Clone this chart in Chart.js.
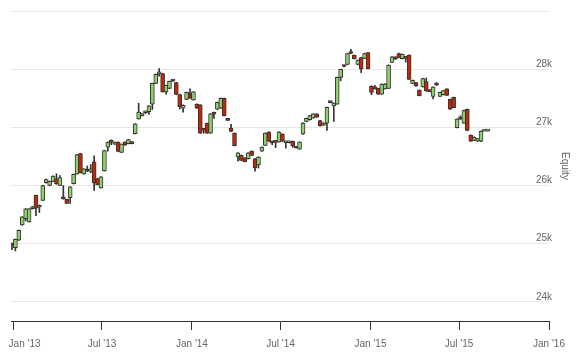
<!DOCTYPE html>
<html>
<head>
<meta charset="utf-8">
<script src="https://cdn.jsdelivr.net/npm/chart.js@4.4.1/dist/chart.umd.min.js"></script>
<style>
html, body { margin: 0; padding: 0; background: #fff; }
</style>
</head>
<body>
<canvas id="equityChart" width="580" height="360"></canvas>
<script>
// Weekly candles, first one starts a few days before Jan 1 2013 (day 0)
const firstWeekDay = -3;

const openVals = [
    25000, 24930, 25060, 25320, 25430, 25375, 25600, 25830, 25625, 25745,
    26050, 26000, 26070, 26115, 26000, 25790, 25760, 25790, 26030, 26200,
    26550, 26200, 26270, 26240, 26405, 26120, 25960, 26250, 26660, 26780,
    26710, 26745, 26570, 26745, 26720, 26750, 26890, 27145, 27200, 27250,
    27270, 27400, 27755, 27920, 27925, 27610, 27670, 27805, 27770, 27565,
    27330, 27480, 27580, 27470, 27400, 27385, 26960, 27070, 26900, 27255,
    27310, 27330, 27500, 27140, 26985, 26900, 26490, 26520, 26475, 26460,
    26590, 26460, 26355, 26590, 26690, 26920, 26760, 26750, 26750, 26885,
    26735, 26735, 26760, 26670, 26625, 26885, 27100, 27130, 27160, 27230,
    27115, 27035, 27070, 27440, 27370, 27400, 27860, 28065, 28080, 28285,
    28240, 28080, 28200, 28185, 28285, 27710, 27670, 27670, 27570, 27660,
    27670, 28115, 28210, 28270, 28180, 28195, 28240, 27755, 27770, 27640,
    27695, 27785, 27640, 27530, 27745, 27530, 27560, 27660, 27480, 27515,
    26995, 27150, 27070, 27310, 26865, 26775, 26760, 26760, 26935, 26935
];
const highVals = [
    25005, 25080, 25235, 25465, 25605, 25605, 25645, 25835, 25665, 26005,
    26110, 26075, 26165, 26200, 26170, 26000, 25765, 25980, 26195, 26535,
    26555, 26290, 26335, 26360, 26510, 26125, 26155, 26605, 26750, 26785,
    26750, 26750, 26715, 26750, 26795, 26755, 27065, 27415, 27235, 27280,
    27375, 27760, 27915, 28010, 27930, 27725, 27795, 27810, 27775, 27570,
    27385, 27605, 27660, 27615, 27405, 27390, 26980, 27075, 27235, 27260,
    27435, 27505, 27505, 27145, 27050, 26905, 26565, 26525, 26480, 26565,
    26595, 26465, 26495, 26665, 26905, 26925, 26765, 26755, 26925, 26890,
    26765, 26765, 26765, 26675, 26750, 27080, 27160, 27205, 27235, 27235,
    27120, 27080, 27350, 27445, 27420, 27865, 28000, 28070, 28275, 28340,
    28245, 28160, 28205, 28275, 28290, 27715, 27720, 27675, 27750, 27750,
    28075, 28215, 28215, 28275, 28260, 28200, 28245, 27815, 27775, 27645,
    27845, 27850, 27645, 27695, 27770, 27605, 27635, 27665, 27485, 27520,
    27145, 27200, 27295, 27315, 26870, 26835, 26810, 26940, 26935, 26935
];
const lowVals = [
    24895, 24875, 25055, 25315, 25390, 25370, 25595, 25480, 25535, 25740,
    26040, 25995, 26065, 26020, 25995, 25765, 25685, 25690, 26025, 26195,
    26215, 26195, 26240, 26220, 25915, 26010, 25955, 26245, 26590, 26700,
    26705, 26580, 26565, 26690, 26715, 26715, 26885, 27140, 27195, 27235,
    27220, 27305, 27750, 27880, 27605, 27570, 27665, 27790, 27560, 27315,
    27260, 27475, 27495, 27465, 27325, 26895, 26900, 26895, 26895, 27155,
    27305, 27325, 27195, 27115, 26925, 26680, 26420, 26425, 26405, 26455,
    26510, 26245, 26300, 26585, 26685, 26755, 26700, 26650, 26745, 26755,
    26640, 26730, 26655, 26640, 26620, 26880, 27095, 27125, 27155, 27170,
    27020, 27030, 26945, 27420, 27100, 27395, 27800, 28040, 28075, 28265,
    28175, 28075, 27940, 28180, 28005, 27560, 27655, 27565, 27565, 27655,
    27665, 28110, 28165, 28195, 28175, 28120, 27820, 27750, 27705, 27540,
    27690, 27620, 27610, 27490, 27720, 27525, 27555, 27545, 27305, 27335,
    26990, 27135, 27065, 26940, 26755, 26770, 26755, 26755, 26935, 26935
];
const closeVals = [
    24980, 25075, 25230, 25460, 25600, 25600, 25635, 25610, 25660, 26000,
    26100, 26070, 26160, 26030, 26135, 25770, 25690, 25975, 26190, 26530,
    26220, 26285, 26245, 26285, 26045, 26015, 26150, 26600, 26745, 26745,
    26745, 26585, 26710, 26695, 26790, 26720, 27060, 27260, 27230, 27260,
    27370, 27755, 27910, 27930, 27610, 27720, 27790, 27795, 27565, 27355,
    27380, 27600, 27500, 27610, 27330, 26900, 26950, 26900, 27230, 27225,
    27430, 27500, 27200, 27120, 26930, 26685, 26560, 26430, 26410, 26560,
    26515, 26300, 26490, 26660, 26900, 26760, 26730, 26740, 26920, 26760,
    26760, 26760, 26685, 26645, 26745, 27075, 27155, 27200, 27230, 27175,
    27025, 27075, 27345, 27425, 27415, 27860, 27995, 28045, 28270, 28270,
    28180, 28155, 28005, 28270, 28010, 27600, 27660, 27570, 27745, 27745,
    28070, 28210, 28170, 28200, 28255, 28185, 27825, 27810, 27710, 27545,
    27840, 27625, 27615, 27690, 27725, 27600, 27630, 27550, 27310, 27340,
    27140, 27140, 27290, 26945, 26760, 26830, 26805, 26935, 26935, 26935
];

// x axis ticks (days since Jan 1 2013) and their labels
const tickDays = [0, 181, 365, 546, 730, 911, 1095];
const tickLabels = ["Jan '13", "Jul '13", "Jan '14", "Jul '14", "Jan '15", "Jul '15", "Jan '16"];
const yTicks = [24000, 25000, 26000, 27000, 28000, 29000];

const upColor = '#90cf6e';
const downColor = '#c0280b';
const lineColor = '#333333';

const bodies = openVals.map((o, i) => ({ x: firstWeekDay + 7 * i, y: [o, closeVals[i]] }));
const wicks = lowVals.map((l, i) => ({ x: firstWeekDay + 7 * i, y: [l, highVals[i]] }));
const bodyColors = openVals.map((o, i) => closeVals[i] >= o ? upColor : downColor);

const font = { family: "'Liberation Sans', Arial, sans-serif", size: 10 };

new Chart(document.getElementById('equityChart'), {
    type: 'bar',
    data: {
        datasets: [{
            label: 'Equity',
            data: bodies,
            backgroundColor: bodyColors,
            borderColor: lineColor,
            borderWidth: 1,
            borderSkipped: false,
            barThickness: 4,
            minBarLength: 2,
            grouped: false,
            order: 1
        }, {
            label: 'Wick',
            data: wicks,
            backgroundColor: lineColor,
            borderWidth: 0,
            barThickness: 1,
            grouped: false,
            order: 2
        }]
    },
    options: {
        responsive: false,
        animation: false,
        layout: { padding: { top: 11, right: 5, bottom: 2, left: 11 } },
        plugins: {
            legend: { display: false },
            tooltip: { enabled: false }
        },
        scales: {
            x: {
                type: 'linear',
                offset: false,
                min: -5,
                max: 1095,
                afterBuildTicks: scale => {
                    scale.ticks = tickDays.map(v => ({ value: v }));
                },
                afterFit: scale => {
                    scale.paddingLeft = 0;
                    scale.paddingRight = 0;
                },
                grid: {
                    offset: false,
                    drawOnChartArea: false,
                    drawTicks: true,
                    tickLength: 9,
                    tickColor: lineColor
                },
                border: { display: true, color: lineColor, width: 1 },
                ticks: {
                    font: font,
                    color: '#666',
                    padding: 8,
                    maxRotation: 0,
                    autoSkip: false,
                    callback: value => {
                        const idx = tickDays.indexOf(value);
                        if (idx < 0) return '';
                        // first label is pushed right so it stays inside the canvas
                        return idx === 0 ? '        ' + tickLabels[idx] : tickLabels[idx];
                    }
                }
            },
            y: {
                position: 'right',
                min: 23670,
                max: 29000,
                afterBuildTicks: scale => {
                    scale.ticks = yTicks.map(v => ({ value: v }));
                },
                grid: { color: '#e6e6e6', drawTicks: false },
                border: { display: false },
                ticks: {
                    mirror: true,
                    padding: 3,
                    labelOffset: -5,
                    font: font,
                    color: '#666',
                    callback: value => value === 29000 ? '' : (value / 1000) + 'k'
                },
                title: {
                    display: true,
                    text: 'Equity',
                    font: font,
                    color: '#666',
                    padding: { top: 4, bottom: 4 }
                }
            }
        }
    }
});
</script>
</body>
</html>
